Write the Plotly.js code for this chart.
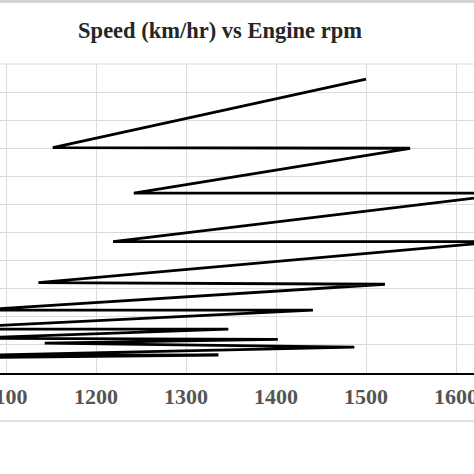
<!DOCTYPE html>
<html>
<head>
<meta charset="utf-8">
<script src="https://cdn.plot.ly/plotly-3.0.1.min.js"></script>
<style>html,body{margin:0;padding:0;background:#fff;}#chart{width:474px;height:474px;}</style>
</head>
<body>
<div id="chart"></div>
<script>
// Engine rpm (x) and speed km/hr (y), in recorded order
const engineRpm = [1049, 1336, 1060, 1487, 1143, 1402, 1060, 1347, 1004, 1441, 1069, 1521, 1136, 1650, 1219, 1665, 1242, 1549, 1152, 1500];
const speedKmh  = [2.7, 3.2, 3.1, 4.6, 5.3, 6.0, 6.2, 7.8, 7.8, 11.2, 11.2, 15.8, 16.1, 23.4, 23.4, 32.0, 32.0, 40.0, 40.1, 52.3];
const xTickVals = [1100, 1200, 1300, 1400, 1500, 1600];
const xTickText = ['1100', '1200', '1300', '1400', '1500', '1600'];
const chartTitle = 'Speed (km/hr) vs Engine rpm';

const trace = {
  x: engineRpm, y: speedKmh, type: 'scatter', mode: 'lines',
  line: {color: '#000000', width: 2.8}, hoverinfo: 'skip'
};

const layout = {
  width: 474, height: 474,
  margin: {l: 0, r: 0, t: 64, b: 101},
  paper_bgcolor: '#ffffff', plot_bgcolor: '#ffffff',
  showlegend: false,
  title: {
    text: '<b>' + chartTitle + '</b>',
    font: {family: 'Liberation Serif, Times New Roman, serif', size: 22.5, color: '#262626'},
    x: 220/474, xanchor: 'center', xref: 'container',
    y: 1 - 30/474, yanchor: 'middle', yref: 'container'
  },
  xaxis: {
    range: [1093.3, 1620], tickvals: xTickVals,
    ticktext: xTickText.map(t => '<b>' + t + '</b>'),
    ticklabeloverflow: 'allow',
    showgrid: true, gridcolor: '#dcdcdc', gridwidth: 1,
    showline: true, linecolor: '#000000', linewidth: 2,
    ticks: 'outside', ticklen: 3, tickcolor: 'rgba(0,0,0,0)',
    zeroline: false,
    tickfont: {family: 'Liberation Serif, Times New Roman, serif', size: 22, color: '#555555'},
    fixedrange: true
  },
  yaxis: {
    range: [0, 55], dtick: 5, tick0: 0,
    showgrid: true, gridcolor: '#dcdcdc', gridwidth: 1,
    showticklabels: false, ticks: '', zeroline: false, showline: false,
    fixedrange: true
  },
  shapes: [
    {type: 'line', xref: 'paper', yref: 'paper', x0: 0, x1: 1, y0: 1, y1: 1, line: {color: '#dcdcdc', width: 1}},
    {type: 'line', xref: 'paper', yref: 'paper', x0: 0, x1: 1, y0: -48/309, y1: -48/309, line: {color: '#d6d6d6', width: 1.5}},
    {type: 'rect', xref: 'paper', yref: 'paper', x0: -0.01, x1: 1.01, y0: 370/309, y1: 374/309, fillcolor: '#d4d4d4', line: {width: 0}}
  ]
};

Plotly.newPlot('chart', [trace], layout, {displayModeBar: false, staticPlot: true});
</script>
</body>
</html>
